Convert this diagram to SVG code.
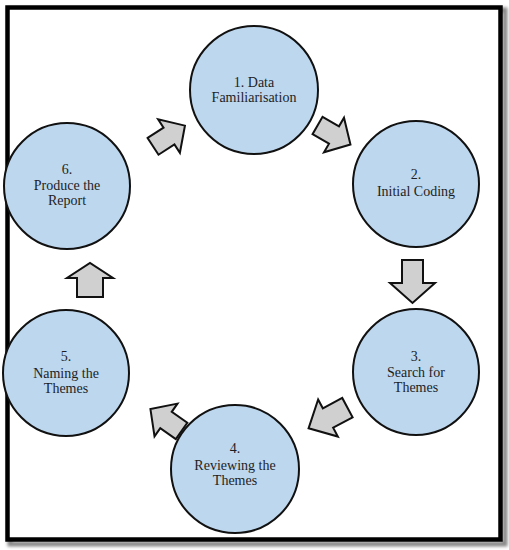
<svg xmlns="http://www.w3.org/2000/svg" width="509" height="550" viewBox="0 0 509 550">
<defs>
<style>
.node circle{fill:#bdd7ee;stroke:#111;stroke-width:2}
.node text{font-family:"Liberation Serif","Times New Roman",serif;font-size:14px;fill:#1e1e1e;text-anchor:middle}
.arr{fill:#d0d0d0;stroke:#111;stroke-width:2;stroke-linejoin:miter}
</style>
<filter id="sh" x="-5%" y="-5%" width="110%" height="110%"><feGaussianBlur stdDeviation="1.5"/></filter>
</defs>
<rect width="509" height="550" fill="#fff"/>
<g id="frame">
<rect x="10" y="10" width="495" height="534" fill="none" stroke="#888" stroke-width="5" filter="url(#sh)"/>
<rect x="7.5" y="7.5" width="493" height="532" fill="#fff" stroke="#000" stroke-width="4.5"/>
</g>
<g id="connectors">
<polygon class="arr" transform="translate(169,136) rotate(-33)" points="-19,-10 0,-10 0,-20 19,0 0,20 0,10 -19,10"/>
<polygon class="arr" transform="translate(334,135) rotate(30)" points="-19,-10 0,-10 0,-20 19,0 0,20 0,10 -19,10"/>
<polygon class="arr" transform="translate(412.5,281.5) rotate(90)" points="-21.5,-10.5 1.5,-10.5 1.5,-22.5 21.5,0 1.5,22.5 1.5,10.5 -21.5,10.5"/>
<polygon class="arr" transform="translate(328,418) rotate(152)" points="-22,-11 0,-11 0,-21 22,0 0,21 0,11 -22,11"/>
<polygon class="arr" transform="translate(166,420) rotate(-145)" points="-19,-10 0,-10 0,-20 19,0 0,20 0,10 -19,10"/>
<polygon class="arr" transform="translate(90,280) rotate(-90)" points="-17,-13 2,-13 2,-23 17,0 2,23 2,13 -17,13"/>
</g>
<g id="n1" class="node"><circle cx="254" cy="90" r="64"/><text x="254" y="87">1. Data</text><text x="254" y="102">Familiarisation</text></g>
<g id="n2" class="node"><circle cx="416" cy="184" r="63"/><text x="416" y="179">2.</text><text x="416" y="196">Initial Coding</text></g>
<g id="n3" class="node"><circle cx="416" cy="372" r="63"/><text x="416" y="361">3.</text><text x="416" y="377">Search for</text><text x="416" y="392">Themes</text></g>
<g id="n4" class="node"><circle cx="235" cy="469" r="64"/><text x="235" y="453">4.</text><text x="235" y="470">Reviewing the</text><text x="235" y="485">Themes</text></g>
<g id="n5" class="node"><circle cx="66" cy="373" r="63"/><text x="66" y="361">5.</text><text x="66" y="378">Naming the</text><text x="66" y="393">Themes</text></g>
<g id="n6" class="node"><circle cx="67" cy="186" r="63"/><text x="67" y="174">6.</text><text x="67" y="190">Produce the</text><text x="67" y="205">Report</text></g>
</svg>
